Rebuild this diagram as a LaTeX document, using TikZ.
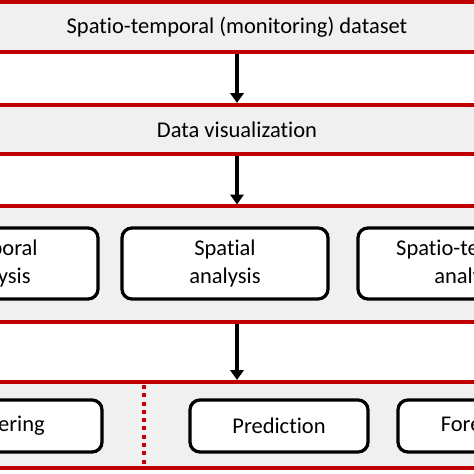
\documentclass[tikz,border=0pt]{standalone}
\usepackage{fontspec}
\setmainfont{Carlito}[Ligatures=NoCommon]
\usetikzlibrary{arrows.meta}
\definecolor{bandred}{HTML}{C00000}
\definecolor{bandgray}{HTML}{F0F0F0}

\begin{document}
\begin{tikzpicture}[x=0.025cm, y=-0.025cm,
    band/.style={fill=bandgray, minimum width=15cm, inner sep=0pt,
        font=\fontsize{16}{20}\selectfont},
    redline/.style={bandred, line width=2.6pt},
    flow/.style={-{Triangle[width=9.5pt,length=7pt]}, line width=2.5pt,
        shorten <=1.3pt, shorten >=1.3pt},
    taskbox/.style={draw, line width=2.3pt, rounded corners=2.5mm, fill=white,
        align=center, inner sep=0pt, font=\fontsize{16}{20}\selectfont}]

    \useasboundingbox (0,0) rectangle (474,474);
    \clip (0,0) rectangle (474,474);

    % Bands
    \node[band, minimum height=12.375mm] (dataset) at (237,26.75)
        {Spatio-temporal (monitoring) dataset};
    \node[band, minimum height=12.25mm] (visual) at (237,129.5)
        {Data visualization};
    \node[band, minimum height=28.875mm] (analysis) at (237,264.25) {};
    \node[band, minimum height=21.5mm] (modelling) at (237,425) {};

    % Analysis boxes
    \node[taskbox, minimum width=51.5mm, minimum height=17.75mm]
        (temporal) at (-5,263.5) {Temporal\\analysis};
    \node[taskbox, minimum width=51.5mm, minimum height=17.75mm]
        (spatial) at (225,263.5) {Spatial\\analysis};
    \node[taskbox, minimum width=56mm, minimum height=17.75mm]
        (spatiotemporal) at (470,263.5) {Spatio-temporal\\analysis};

    % Modelling boxes
    \node[taskbox, minimum width=51.5mm, minimum height=13mm]
        (clustering) at (-1,426) {Clustering};
    \node[taskbox, minimum width=44.5mm, minimum height=13mm]
        (prediction) at (279,426) {Prediction};
    \node[taskbox, minimum width=47.5mm, minimum height=13mm]
        (forecasting) at (493,426) {Forecasting};

    % Dotted separator
    \draw[bandred, line width=2.5pt, dash pattern=on 2.8pt off 3.1pt]
        (144,385) -- (144,465);

    % Arrows
    \draw[flow] (dataset.south) -- (visual.north);
    \draw[flow] (visual.south) -- (analysis.north);
    \draw[flow] (analysis.south) -- (modelling.north);

    % Red band edges
    \foreach \b in {dataset,visual,analysis,modelling} {
        \draw[redline] (\b.north west) -- (\b.north east);
        \draw[redline] (\b.south west) -- (\b.south east);
    }

\end{tikzpicture}
\end{document}
